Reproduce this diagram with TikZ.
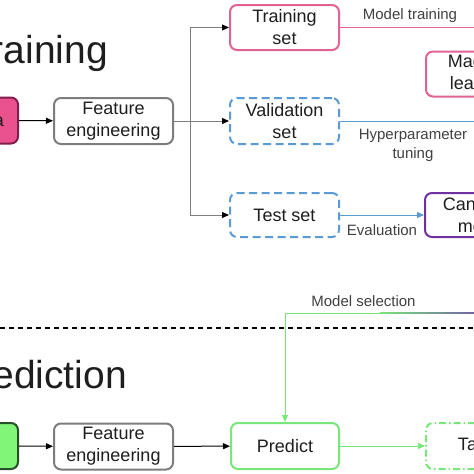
\documentclass[tikz,border=0pt]{standalone}
\usepackage{fontspec}
\setmainfont{Liberation Sans}
\usetikzlibrary{arrows.meta}
\definecolor{pinkline}{RGB}{226,98,148}
\definecolor{pinkfill}{RGB}{233,82,140}
\definecolor{pinkdark}{RGB}{130,30,75}
\definecolor{blueline}{RGB}{91,155,213}
\definecolor{purpleline}{RGB}{112,48,160}
\definecolor{greenline}{RGB}{120,230,120}
\definecolor{greenfill}{RGB}{128,245,120}
\definecolor{greendark}{RGB}{40,80,40}
\definecolor{grayline}{RGB}{125,125,125}
\definecolor{txt}{RGB}{30,30,30}
\definecolor{fadeend}{RGB}{115,100,165}
\begin{document}
\begin{tikzpicture}[x=1pt,y=-1pt,
  box/.style={draw, rounded corners=7pt, line width=2pt, align=center, inner sep=0pt,
    font=\fontsize{18}{22}\selectfont, text=txt, fill=white},
  febox/.style={box, draw=grayline},
  pinkbox/.style={box, draw=pinkline},
  bluebox/.style={box, draw=blueline, dash pattern=on 8pt off 4.5pt},
  purplebox/.style={box, draw=purpleline},
  greenbox/.style={box, draw=greenline},
  greendashbox/.style={box, draw=greenline, dash pattern=on 7pt off 3pt on 1.5pt off 3pt},
  title/.style={font=\fontsize{39}{44}\selectfont, text=txt, inner sep=0pt},
  lbl/.style={font=\fontsize{15}{19}\selectfont, text=txt!85, align=center, inner sep=0pt},
  tipk/.style={-{Triangle[length=7pt,width=6pt,black]}},
  conn/.style={line width=1pt},
]
\useasboundingbox (0,0) rectangle (474,474);
\clip (0,0) rectangle (474,474);

% titles
\node[title, anchor=base east] (t1) at (108,63) {Training};
\node[title, anchor=base east] (t2) at (127,388) {Prediction};

% training row
\node[box, draw=pinkdark, fill=pinkfill, minimum width=66pt, minimum height=46pt] (data1) at (-15,120.5) {Data};
\node[febox, minimum width=119pt, minimum height=46pt] (fe1) at (113.5,121) {Feature\\engineering};
\node[pinkbox, minimum width=109pt, minimum height=45pt] (train) at (284.5,27.5) {Training\\set};
\node[bluebox, minimum width=109pt, minimum height=46pt] (valid) at (284.5,121) {Validation\\set};
\node[bluebox, minimum width=109pt, minimum height=44pt] (test) at (284.5,215) {Test set};
\node[pinkbox, minimum width=112pt, minimum height=45pt] (ml) at (482,74) {Machine\\learning};
\node[purplebox, minimum width=124pt, minimum height=44pt] (cand) at (487,215) {Can-didate\\models};

\draw[conn, tipk] (data1) -- (fe1);
\coordinate (split) at (190,121);
\draw[conn, grayline] (fe1.east) -- (split);
\draw[conn, grayline, tipk] (split) |- (train.west);
\draw[conn, grayline, tipk] (split) -- (valid.west);
\draw[conn, grayline, tipk] (split) |- (test.west);

\coordinate (mtend) at (474,27.5);
\draw[conn, pinkline] (train.east) -- (mtend);
\node[lbl] (mtl) at (410,16) {Model training};

\coordinate (hpend) at (474,121);
\draw[conn, blueline] (valid.east) -- (hpend);
\node[lbl] (hpl) at (413,145) {Hyperparameter\\tuning};

\draw[conn, blueline, -{Triangle[length=7pt,width=6pt]}] (test.east) -- (cand.west);
\node[lbl] (evl) at (382,230) {Evaluation};

% separator
\coordinate (sepl) at (0,328);
\coordinate (sepr) at (474,328);
\draw[line width=1.2pt, dash pattern=on 5pt off 4pt] (sepl) -- (sepr);

% prediction row
\node[box, draw=greendark, fill=greenfill, minimum width=66pt, minimum height=46pt] (data2) at (-15,446) {};
\node[febox, minimum width=119pt, minimum height=46pt] (fe2) at (113.5,446.5) {Feature\\engineering};
\node[greenbox, minimum width=108pt, minimum height=46pt] (predict) at (285,446) {Predict};
\node[greendashbox, minimum width=114pt, minimum height=46pt] (target) at (483,446) {Target};

\draw[conn, tipk] (data2) -- (fe2);
\draw[conn, tipk] (fe2) -- (predict);
\draw[conn, greenline, -{Triangle[length=7pt,width=6pt]}] (predict) -- (target);

\coordinate (msc) at (285,313);
\coordinate (msm) at (380,313);
\draw[conn, greenline, -{Triangle[length=7pt,width=6pt]}] (msc) -- (predict.north);
\draw[conn, greenline] (msc) -- (msm);
\shade[left color=greenline, right color=fadeend] (380,312.5) rectangle (474,313.5);
\node[lbl] (msl) at (363.5,301) {Model selection};
\end{tikzpicture}
\end{document}
